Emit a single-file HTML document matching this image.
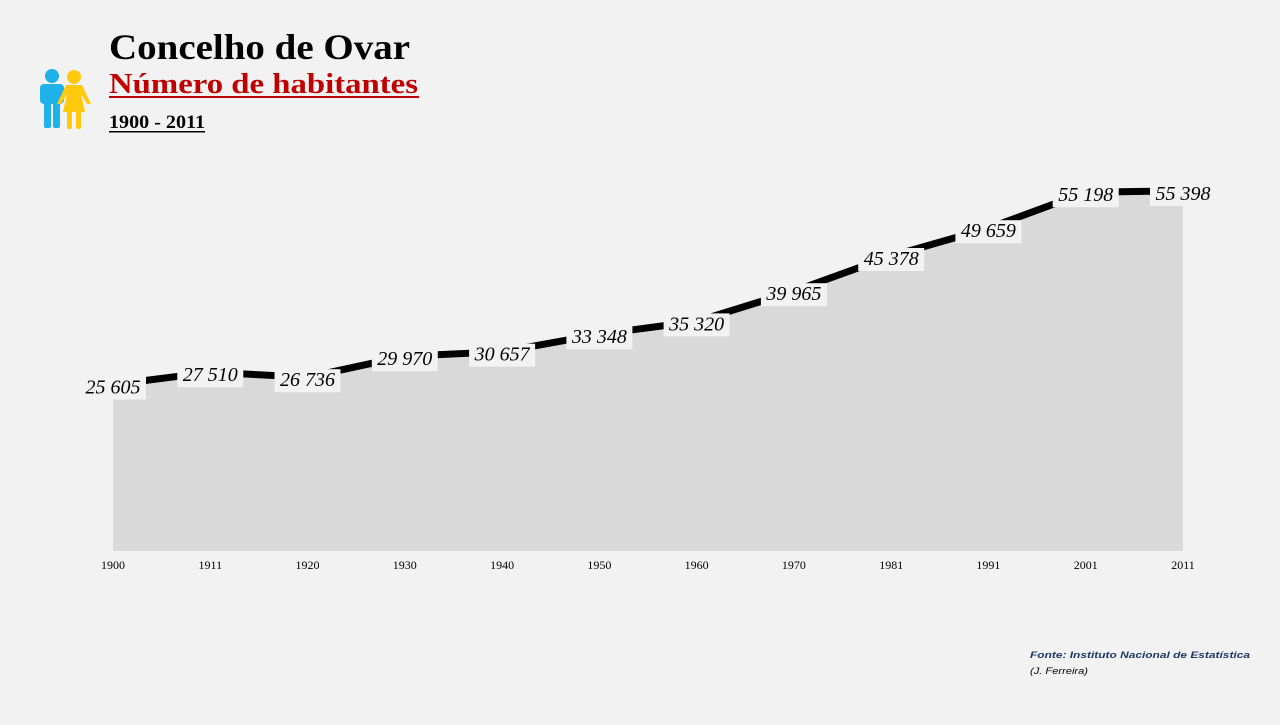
<!DOCTYPE html>
<html><head><meta charset="utf-8"><style>
body{margin:0;background:#f2f2f2;width:1280px;height:720px;overflow:hidden;font-family:"Liberation Serif",serif}
</style></head><body>
<svg width="1280" height="720" viewBox="0 0 1280 720" xmlns="http://www.w3.org/2000/svg">
<rect width="1280" height="720" fill="#f2f2f2"/>
<g fill="#1fb2ea">
<circle cx="52" cy="76" r="7"/>
<rect x="40" y="84" width="24" height="20" rx="4"/>
<rect x="44" y="100" width="7" height="28" rx="2"/>
<rect x="53" y="100" width="7" height="28" rx="2"/>
</g>
<g fill="#ffc90e">
<circle cx="74" cy="77" r="7"/>
<path d="M66 85 H82 L91 104 H87 L81 94 L85 112 H63 L67 94 L61 104 H57 Z"/>
<rect x="67" y="110" width="5" height="19" rx="2"/>
<rect x="76" y="110" width="5" height="19" rx="2"/>
</g>
<text x="109" y="59" font-size="36" font-weight="bold" fill="#000" textLength="301" lengthAdjust="spacingAndGlyphs">Concelho de Ovar</text>
<text x="109" y="93" font-size="29" font-weight="bold" fill="#c00000" textLength="309" lengthAdjust="spacingAndGlyphs">Número de habitantes</text>
<rect x="109" y="96" width="310" height="2" fill="#c00000"/>
<text x="109" y="128" font-size="19" font-weight="bold" fill="#000" textLength="96" lengthAdjust="spacingAndGlyphs">1900 - 2011</text>
<rect x="109" y="131" width="96" height="1.5" fill="#000"/>
<polygon fill="#d9d9d9" points="113,551 113,384.6 210.3,372.2 307.5,377.2 404.8,356.2 502.1,351.7 599.4,334.2 696.6,321.4 793.9,291.2 891.2,256 988.4,228.2 1085.7,192.2 1183,190.9 1183,551"/>
<polyline fill="none" stroke="#000" stroke-width="7" points="113,384.6 210.3,372.2 307.5,377.2 404.8,356.2 502.1,351.7 599.4,334.2 696.6,321.4 793.9,291.2 891.2,256 988.4,228.2 1085.7,192.2 1183,190.9"/>
<g fill="#f2f2f2">
<rect x="80" y="376.6" width="66" height="23"/>
<rect x="177.3" y="364.2" width="66" height="23"/>
<rect x="274.5" y="369.2" width="66" height="23"/>
<rect x="371.8" y="348.2" width="66" height="23"/>
<rect x="469.1" y="343.7" width="66" height="23"/>
<rect x="566.4" y="326.2" width="66" height="23"/>
<rect x="663.6" y="313.4" width="66" height="23"/>
<rect x="760.9" y="283.2" width="66" height="23"/>
<rect x="858.2" y="248" width="66" height="23"/>
<rect x="955.4" y="220.2" width="66" height="23"/>
<rect x="1052.7" y="184.2" width="66" height="23"/>
<rect x="1150" y="182.9" width="66" height="23"/>
</g>
<g font-size="20" font-style="italic" text-anchor="middle" fill="#000">
<text x="113" y="393.6">25 605</text>
<text x="210.3" y="381.2">27 510</text>
<text x="307.5" y="386.2">26 736</text>
<text x="404.8" y="365.2">29 970</text>
<text x="502.1" y="360.7">30 657</text>
<text x="599.4" y="343.2">33 348</text>
<text x="696.6" y="330.4">35 320</text>
<text x="793.9" y="300.2">39 965</text>
<text x="891.2" y="265">45 378</text>
<text x="988.4" y="237.2">49 659</text>
<text x="1085.7" y="201.2">55 198</text>
<text x="1183" y="199.9">55 398</text>
</g>
<g font-size="12" text-anchor="middle" fill="#000">
<text x="113" y="569">1900</text><text x="210.3" y="569">1911</text><text x="307.5" y="569">1920</text>
<text x="404.8" y="569">1930</text><text x="502.1" y="569">1940</text><text x="599.4" y="569">1950</text>
<text x="696.6" y="569">1960</text><text x="793.9" y="569">1970</text><text x="891.2" y="569">1981</text>
<text x="988.4" y="569">1991</text><text x="1085.7" y="569">2001</text><text x="1183" y="569">2011</text>
</g>
<text x="1030" y="658" font-family="Liberation Sans,sans-serif" font-size="9.5" font-weight="bold" font-style="italic" fill="#1f3864" textLength="220" lengthAdjust="spacingAndGlyphs">Fonte: Instituto Nacional de Estatística</text>
<text x="1030" y="674" font-family="Liberation Sans,sans-serif" font-size="9.5" font-style="italic" fill="#000" textLength="58" lengthAdjust="spacingAndGlyphs">(J. Ferreira)</text>
</svg>
</body></html>
